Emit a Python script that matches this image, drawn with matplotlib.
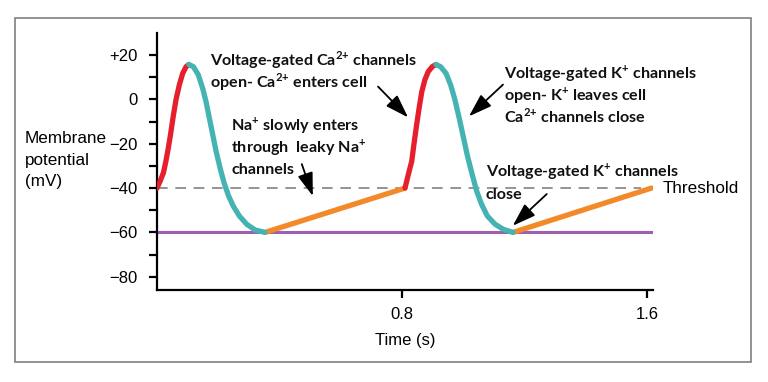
import numpy as np
import matplotlib.pyplot as plt
from matplotlib.patches import Rectangle

plt.rcParams['font.family'] = ['Liberation Sans', 'DejaVu Sans']
plt.rcParams['mathtext.fontset'] = 'custom'
plt.rcParams['mathtext.rm'] = 'Lato:bold'
plt.rcParams['mathtext.bf'] = 'Lato:bold'

# membrane potential trace (time s, mV)
rise1_t = [0.0, 0.010, 0.021, 0.029, 0.037, 0.045, 0.053, 0.062, 0.073, 0.084, 0.095, 0.104]
rise1_v = [-40, -36.9, -33.1, -27.9, -21.9, -15.1, -7.6, -0.1, 6.6, 11.8, 14.8, 15.8]
fall1_t = [0.104, 0.119, 0.135, 0.149, 0.160, 0.171, 0.182, 0.193, 0.206, 0.219, 0.234,
           0.249, 0.269, 0.293, 0.320, 0.353]
fall1_v = [15.8, 14.8, 11.1, 5.1, -0.9, -8.4, -15.9, -23.4, -30.9, -37.6, -43.6,
           -48.1, -52.6, -56.3, -58.9, -60]
leak1_t = [0.353, 0.810]
leak1_v = [-60, -40]
rise2_t = [0.810, 0.821, 0.832, 0.839, 0.848, 0.857, 0.865, 0.875, 0.886, 0.899, 0.911]
rise2_v = [-40, -33.8, -27.9, -20.4, -11.4, -3.1, 3.6, 8.9, 12.6, 14.8, 15.8]
fall2_t = [0.911, 0.926, 0.944, 0.959, 0.973, 0.987, 1.000, 1.013, 1.028, 1.044, 1.060,
           1.079, 1.104, 1.131, 1.163]
fall2_v = [15.8, 14.8, 11.8, 6.6, -0.1, -8.4, -16.6, -24.9, -33.1, -41.3, -47.3,
           -52.6, -56.3, -58.6, -60]
leak2_t = [1.163, 1.615]
leak2_v = [-60, -40]

resting = -60
threshold = -40
y_ticks = [-80, -60, -40, -20, 0, 20]
y_labels = ['\u221280', '\u221260', '\u221240', '\u221220', '0', '+20']
x_ticks = [0.8, 1.6]
x_labels = ['0.8', '1.6']

W, H = 768, 382
fig = plt.figure(figsize=(W / 100, H / 100), dpi=100)
ax = fig.add_axes([157 / W, 1 - 290 / H, 496 / W, 257 / H])

def px(x, y):
    return x / W, 1 - y / H

red = '#e51f2b'
teal = '#45b3b1'
orange = '#f28a2a'
purple = '#9d5fb0'

ax.plot([0, 1.62], [resting, resting], color=purple, lw=2.2, solid_capstyle='butt', zorder=2)
ax.plot([0, 1.58], [threshold, threshold], color='#777777', lw=1.1, ls=(0, (7, 5)), zorder=1)

seg_style = dict(lw=3.8, solid_capstyle='round', solid_joinstyle='round', zorder=3)
ax.plot(leak1_t, leak1_v, color=orange, **seg_style)
ax.plot(leak2_t, leak2_v, color=orange, **seg_style)
ax.plot(rise1_t, rise1_v, color=red, **seg_style)
ax.plot(rise2_t, rise2_v, color=red, **seg_style)
ax.plot(fall1_t, fall1_v, color=teal, **seg_style)
ax.plot(fall2_t, fall2_v, color=teal, **seg_style)

ax.set_xlim(0, 1.62)
ax.set_ylim(-86, 30)
for s in ['top', 'right']:
    ax.spines[s].set_visible(False)
for s in ['left', 'bottom']:
    ax.spines[s].set_linewidth(1.6)
ax.set_yticks(y_ticks)
ax.set_yticklabels(y_labels)
ax.set_yticks(np.arange(-70, 30, 20), minor=True)
ax.set_xticks(x_ticks)
ax.set_xticklabels(x_labels)
ax.tick_params(which='both', length=6, width=1.6, labelsize=12, pad=6)
ax.tick_params(axis='y', pad=8)
ax.patch.set_alpha(0)

fig.text(*px(405, 340), 'Time (s)', ha='center', va='center', fontsize=12)
for txt, yb in zip(['Membrane', 'potential', '(mV)'], [143, 165, 186]):
    fig.text(*px(25, yb), txt, ha='left', va='baseline', fontsize=12.3)
fig.text(*px(663, 193), 'Threshold', ha='left', va='baseline', fontsize=12.3)

notes = [
    (210, [65.7, 87.3], ['Voltage-gated Ca$^{2{+}}$ channels', 'open- Ca$^{2{+}}$ enters cell']),
    (231, [130, 152, 174], ['Na$^{{+}}$ slowly enters', 'through  leaky Na$^{{+}}$', 'channels']),
    (504, [78.3, 100.3, 122.5], ['Voltage-gated K$^{{+}}$ channels', 'open- K$^{{+}}$ leaves cell',
                                 'Ca$^{2{+}}$ channels close']),
    (486, [176.7, 199.3], ['Voltage-gated K$^{{+}}$ channels', 'close']),
]
for x0, ybs, lines in notes:
    for txt, yb in zip(lines, ybs):
        fig.text(*px(x0, yb), txt, ha='left', va='baseline', fontsize=11.6,
                 family='Lato', fontweight='bold', color='#111111')

arrows = [
    ((0.722, 5.8), (0.82, -8.1)),
    ((0.473, -29.2), (0.509, -43.6)),
    ((1.13, 6.7), (1.019, -7.6)),
    ((1.273, -42.7), (1.162, -57.0)),
]
for tail, head in arrows:
    ax.annotate('', xy=head, xytext=tail,
                arrowprops=dict(arrowstyle='-|>,head_length=0.75,head_width=0.25',
                                color='black', lw=1.3, mutation_scale=19,
                                shrinkA=0, shrinkB=0))

fig.patches.append(Rectangle(px(15, 362), 736 / W, 344 / H, transform=fig.transFigure,
                             fill=False, edgecolor='#808080', lw=1.2))

fig.savefig('out.png', dpi=100)
